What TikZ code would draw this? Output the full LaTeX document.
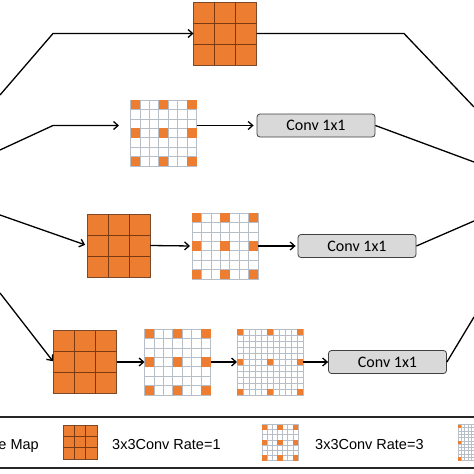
\documentclass[tikz,border=0pt]{standalone}
\usepackage{fontspec}
\setmainfont{Liberation Sans}
\newfontfamily\carlitofont{Carlito}
\usetikzlibrary{arrows.meta}
\definecolor{org}{HTML}{ED7D31}
\definecolor{brn}{HTML}{7A3A12}
\definecolor{gln}{HTML}{B8BEC8}
\definecolor{cfill}{HTML}{D9D9D9}
\definecolor{cdraw}{HTML}{404040}
\tikzset{
  obox/.style={draw=brn!80!gray,fill=org,line width=0.8pt,inner sep=0pt,outer sep=0pt},
  bline/.style={draw=brn,line width=0.8pt},
  gbox/.style={fill=white,inner sep=0pt,outer sep=0pt},
  gline/.style={draw=gln,line width=0.6pt},
  convbox/.style={draw=cdraw,fill=cfill,rounded corners=3pt,line width=0.8pt,
    minimum width=118pt,minimum height=23pt,inner sep=0pt,
    font=\carlitofont\fontsize{16}{19}\selectfont},
  conn/.style={line width=1.3pt,draw=black,line join=round},
  arr/.style={conn,-{Straight Barb[length=4.5pt,width=8pt,line width=1.3pt]}},
  legtext/.style={inner sep=0pt,font=\fontsize{14.5}{17}\selectfont},
  legline/.style={line width=2.5pt,draw=black!85}
}
\newcommand\oboxat[4]{%
  \node[obox,minimum size=#4pt] (#1) at (#2,#3) {};
  \begin{scope}[shift={({#2-#4/2},{#3-#4/2})}]
    \foreach \k in {1,2}{
      \draw[bline] ({\k*#4/3},0) -- ({\k*#4/3},#4);
      \draw[bline] (0,{\k*#4/3}) -- (#4,{\k*#4/3});
    }
  \end{scope}
}
\newcommand\dgridat[6]{%
  \node[gbox,minimum size=#4pt] (#1) at (#2,#3) {};
  \begin{scope}[shift={({#2-#4/2},{#3-#4/2})}]
    \pgfmathsetmacro\gcell{#4/#5}
    \pgfmathtruncatemacro\gnn{#5-1}
    \foreach \k in {1,...,\gnn}{
      \draw[gline] ({\k*\gcell},0) -- ({\k*\gcell},#4);
      \draw[gline] (0,{\k*\gcell}) -- (#4,{\k*\gcell});
    }
    \draw[gline] (0,0) rectangle (#4,#4);
    \foreach \i in {#6}{\foreach \j in {#6}{
      \fill[org] ({\i*\gcell},{\j*\gcell}) rectangle ({(\i+1)*\gcell},{(\j+1)*\gcell});}}
  \end{scope}
}
\begin{document}
\begin{tikzpicture}[x=1pt,y=-1pt]
\useasboundingbox (0,0) rectangle (474,474);
\clip (0,0) rectangle (474,474);
\fill[white] (0,0) rectangle (474,474);

% row 1
\oboxat{b1}{225}{33.5}{63}
% row 2
\dgridat{g2}{163.5}{133}{66}{7}{0,3,6}
\node[convbox] (c2) at (316,125.5) {Conv 1x1};
% row 3
\oboxat{b3}{118.5}{245.5}{63}
\dgridat{g3}{225}{246}{66}{7}{0,3,6}
\node[convbox] (c3) at (357,246) {Conv 1x1};
% row 4
\oboxat{b4}{85}{362}{63}
\dgridat{g4a}{177.5}{362}{66}{7}{0,3,6}
\dgridat{g4b}{270}{362}{66}{11}{0,5,10}
\node[convbox] (c4) at (387.5,362) {Conv 1x1};

% left and right ends
\coordinate (l1) at (0,95);   \coordinate (k1) at (53,33.5);
\coordinate (q1) at (404,33.5); \coordinate (r1) at (474,107);
\coordinate (l2) at (0,150);  \coordinate (k2) at (53,125.5);
\coordinate (a2) at (119,125.5);
\coordinate (r2) at (474,162);
\coordinate (l3) at (0,215);  \coordinate (r3) at (474,221);
\coordinate (l4) at (0,293);  \coordinate (r4) at (474,317);

% connectors
\draw[arr] (l1) -- (k1) -- (b1.west);
\draw[conn] (b1.east) -- (q1) -- (r1);
\draw[arr] (l2) -- (k2) -- (a2);
\draw[arr,shorten >=3pt] (g2.east |- c2.west) -- (c2.west);
\draw[conn] (c2.east) -- (r2);
\draw[arr,shorten >=2pt] (l3) -- (b3.west);
\draw[arr,shorten >=2pt] (b3.east) -- (g3.west);
\draw[arr,shorten >=2pt] (g3.east) -- (c3.west);
\draw[conn] (c3.east) -- (r3);
\draw[arr,shorten >=1pt] (l4) -- (b4.west);
\draw[arr] (b4.east) -- (g4a.west);
\draw[arr] (g4a.east) -- (g4b.west);
\draw[arr] (g4b.east) -- (c4.west);
\draw[conn] (c4.east) -- (r4);

% legend
\coordinate (la) at (0,417); \coordinate (lb) at (474,417);
\coordinate (lc) at (0,468); \coordinate (ld) at (474,468);
\draw[legline] (la) -- (lb);
\draw[legline] (lc) -- (ld);
\node[legtext,anchor=base east] (t0) at (39,449) {Feature Map};
\oboxat{lg1}{80}{442}{34}
\node[legtext,anchor=base west] (t1) at (112,449) {3x3Conv Rate=1};
\dgridat{lg2}{280}{442.5}{36}{7}{0,3,6}
\node[legtext,anchor=base west] (t2) at (315,449) {3x3Conv Rate=3};
\dgridat{lg3}{476}{442.5}{36}{11}{0,5,10}
\end{tikzpicture}
\end{document}
